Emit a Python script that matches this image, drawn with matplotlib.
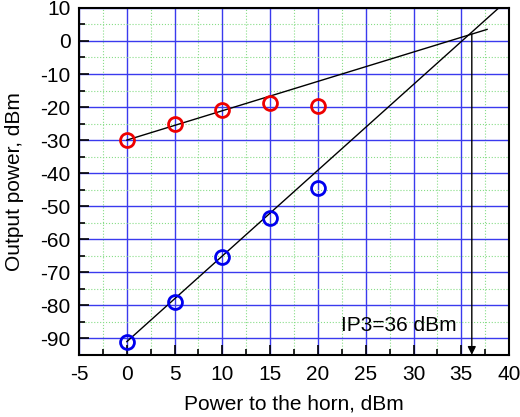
import matplotlib
matplotlib.use('Agg')
import matplotlib.pyplot as plt
import numpy as np

plt.rcParams['font.family'] = ['Liberation Sans', 'DejaVu Sans']
plt.rcParams['axes.unicode_minus'] = False

# Measured points
power_in = [0, 5, 10, 15, 20]
fundamental = [-30, -25, -21, -18.7, -19.7]
third_order = [-91, -79, -65.5, -53.5, -44.6]

# Fitted lines (end points)
fund_fit_x = [0, 37.7]
fund_fit_y = [-30, 3.5]
im3_fit_x = [0, 39.5]
im3_fit_y = [-91, 11.5]

ip3_x = 36.1
ip3_y = 2.1
ip3_label = 'IP3=36 dBm'

fig = plt.figure(figsize=(5.2, 4.17), dpi=100)
ax = fig.add_axes([0.152, 0.149, 0.827, 0.832])

ax.set_xlim(-5, 40)
ax.set_ylim(-95, 10)
ax.set_xticks(np.arange(-5, 41, 5))
ax.set_xticks(np.arange(-5, 40, 2.5), minor=True)
ax.set_yticks(np.arange(-90, 11, 10))
ax.set_yticks(np.arange(-95, 10, 5), minor=True)

ax.grid(which='major', color='#3a3aee', linewidth=1.0)
ax.grid(which='minor', color='#88dd88', linewidth=0.8, linestyle=':')
ax.set_axisbelow(True)

ax.plot(fund_fit_x, fund_fit_y, color='black', linewidth=1.0)
ax.plot(im3_fit_x, im3_fit_y, color='black', linewidth=1.0)

ax.plot(power_in, fundamental, 'o', markerfacecolor='none', markeredgecolor='#ee0000',
        markersize=10, markeredgewidth=2)
ax.plot(power_in, third_order, 'o', markerfacecolor='none', markeredgecolor='#0000ee',
        markersize=10, markeredgewidth=2)

ax.annotate('', xy=(ip3_x, -95), xytext=(ip3_x, ip3_y),
            arrowprops=dict(arrowstyle='-|>', color='black', lw=1.0, shrinkA=0, shrinkB=0,
                            mutation_scale=12))
ax.text(22.4, -86, ip3_label, fontsize=15, va='center', ha='left')

ax.tick_params(which='both', direction='in', top=False, right=False, labelsize=15)
ax.tick_params(which='major', length=7, width=1.2)
ax.tick_params(which='minor', length=4, width=1.2)
ax.tick_params(axis='x', pad=7)
ax.tick_params(axis='y', pad=6)
for s in ax.spines.values():
    s.set_linewidth(1.5)

ax.set_xlabel('Power to the horn, dBm', fontsize=15, labelpad=8)
ax.set_ylabel('Output power, dBm', fontsize=15, labelpad=12)

fig.savefig('out.png', dpi=100)
